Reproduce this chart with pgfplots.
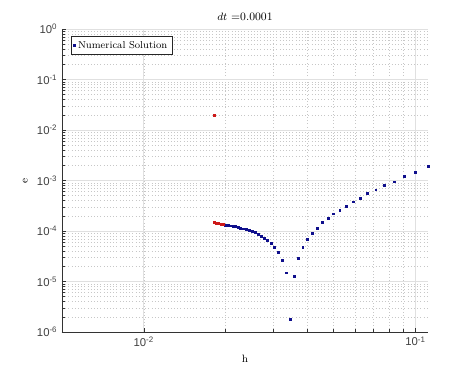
\documentclass[border=0pt]{standalone}
\usepackage{pgfplots}
\pgfplotsset{compat=1.18}
\usepackage{fontspec}
\newfontfamily\ticksans{Liberation Sans}
\definecolor{mblue}{RGB}{15,15,140}
\definecolor{mred}{RGB}{205,25,25}
\begin{document}
\begin{tikzpicture}
\begin{axis}[
  scale only axis, width=274.5pt, height=227.25pt,
  xmode=log, ymode=log,
  xmin=0.005, xmax=0.1112, ymin=1e-6, ymax=1,
  clip=false,
  axis lines*=left,
  axis line style={black!80, line width=0.5pt},
  tick align=inside,
  major tick length=3pt, minor tick length=2pt,
  every tick/.style={black!80, line width=0.4pt},
  xtick={0.01,0.1},
  xticklabels={{\ticksans 10\textsuperscript{-2}},{\ticksans 10\textsuperscript{-1}}},
  ytick={1e-6,1e-5,1e-4,1e-3,1e-2,1e-1,1},
  yticklabels={{\ticksans 10\textsuperscript{-6}},{\ticksans 10\textsuperscript{-5}},{\ticksans 10\textsuperscript{-4}},{\ticksans 10\textsuperscript{-3}},{\ticksans 10\textsuperscript{-2}},{\ticksans 10\textsuperscript{-1}},{\ticksans 10\textsuperscript{0}}},
  ticklabel style={font=\fontsize{8.5}{9}\selectfont, text=black!75},
  grid=both,
  major grid style={black!12, line width=0.5pt},
  minor grid style={black!22, dotted, line width=0.4pt},
  title={$dt$ =0.0001},
  title style={font=\fontsize{8.5}{10}\selectfont, yshift=-3pt},
  xlabel={h}, ylabel={e},
  label style={font=\fontsize{8}{9}\selectfont},
  legend style={at={(0.025,0.977)}, anchor=north west, draw=black!85, line width=0.5pt,
    font=\fontsize{7.5}{9}\selectfont, inner sep=1.5pt, row sep=0pt},
  legend cell align=left,
]
\addplot[only marks, mark=square*, mark size=0.7pt, mblue] coordinates {
(0.111111,1.876e-3) (0.1,1.47e-3) (0.090909,1.19e-3) (0.083333,9.46e-4)
(0.076923,8.03e-4) (0.071429,6.57e-4) (0.066667,5.48e-4) (0.0625,4.50e-4)
(0.058824,3.80e-4) (0.055556,3.13e-4) (0.052632,2.61e-4) (0.05,2.20e-4)
(0.047619,1.81e-4) (0.045455,1.46e-4) (0.043478,1.15e-4) (0.041667,9.0e-5)
(0.04,6.73e-5) (0.038462,4.67e-5) (0.037037,2.88e-5) (0.035714,1.27e-5)
(0.034483,1.78e-6) (0.033333,1.49e-5) (0.032258,2.67e-5) (0.03125,3.79e-5)
(0.030303,4.75e-5) (0.029412,5.61e-5) (0.028571,6.43e-5) (0.027778,7.16e-5)
(0.027027,7.96e-5) (0.026316,8.73e-5) (0.025641,9.34e-5) (0.025,9.86e-5)
(0.02439,1.03e-4) (0.02381,1.07e-4) (0.023256,1.11e-4) (0.022727,1.15e-4)
(0.022222,1.18e-4) (0.021739,1.22e-4) (0.021277,1.25e-4) (0.020833,1.27e-4)
(0.020408,1.30e-4) (0.02,1.32e-4)
};
\addlegendentry{Numerical Solution}
\addplot[only marks, mark=square*, mark size=0.7pt, mred, forget plot] coordinates {
(0.019608,1.35e-4) (0.019231,1.38e-4) (0.018868,1.41e-4) (0.018519,1.44e-4)
(0.018182,1.47e-4) (0.018182,1.95e-2)
};
\end{axis}
\path[use as bounding box] (-46.5pt,-30.75pt) rectangle (309pt,249pt);
\end{tikzpicture}
\end{document}
